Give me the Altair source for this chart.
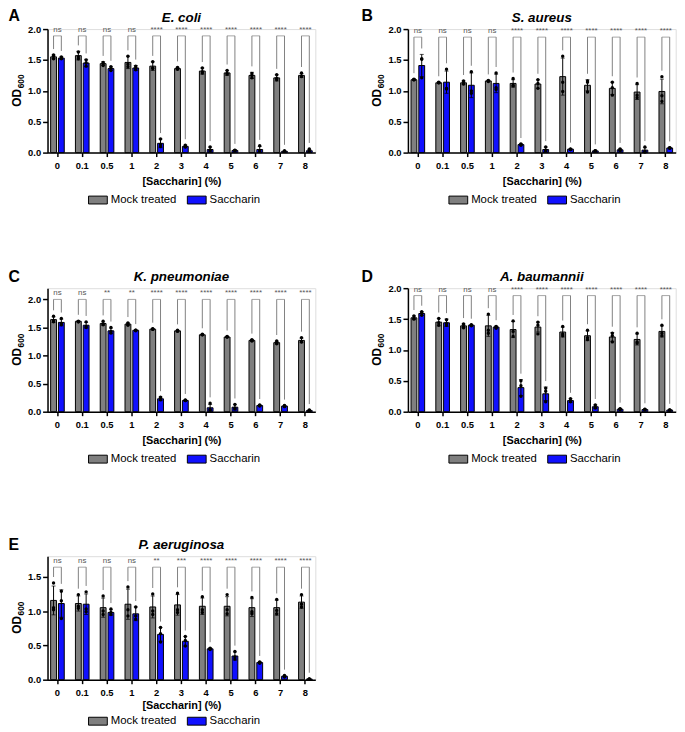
import altair as alt
import pandas as pd

conc_labels = ["0", "0.1", "0.5", "1", "2", "3", "4", "5", "6", "7", "8"]
treatments = ["Mock treated", "Saccharin"]
bar_colors = ["#7f7f7f", "#1010ff"]

# ---- Panel A: E. coli ----
A_mock_mean = [1.55, 1.57, 1.44, 1.46, 1.40, 1.36, 1.32, 1.29, 1.25, 1.21, 1.25]
A_mock_sd = [0.03, 0.07, 0.03, 0.10, 0.07, 0.02, 0.05, 0.04, 0.05, 0.05, 0.03]
A_mock_pts = [[1.52, 1.56, 1.58], [1.63, 1.55, 1.52], [1.46, 1.44, 1.41], [1.56, 1.43, 1.39],
              [1.47, 1.37, 1.36], [1.38, 1.36, 1.35], [1.37, 1.31, 1.29], [1.33, 1.28, 1.27],
              [1.28, 1.25, 1.21], [1.26, 1.20, 1.18], [1.29, 1.24, 1.23]]
A_sac_mean = [1.53, 1.45, 1.36, 1.37, 0.15, 0.10, 0.05, 0.035, 0.05, 0.02, 0.03]
A_sac_sd = [0.02, 0.06, 0.03, 0.04, 0.07, 0.02, 0.04, 0.01, 0.05, 0.01, 0.02]
A_sac_pts = [[1.55, 1.53, 1.52], [1.50, 1.45, 1.40], [1.39, 1.36, 1.33], [1.40, 1.37, 1.34],
             [0.22, 0.13, 0.10], [0.12, 0.10, 0.09], [0.09, 0.04, 0.03], [0.04, 0.035, 0.03],
             [0.11, 0.03, 0.02], [0.03, 0.02, 0.02], [0.06, 0.02, 0.02]]
A_sig = ["ns", "ns", "ns", "ns", "****", "****", "****", "****", "****", "****", "****"]

# ---- Panel B: S. aureus ----
B_mock_mean = [1.18, 1.13, 1.13, 1.16, 1.12, 1.11, 1.23, 1.09, 1.04, 0.98, 0.99]
B_mock_sd = [0.01, 0.01, 0.03, 0.01, 0.06, 0.07, 0.30, 0.09, 0.10, 0.12, 0.20]
B_mock_pts = [[1.18, 1.19, 1.18], [1.13, 1.13, 1.14], [1.16, 1.12, 1.11], [1.17, 1.16, 1.15],
              [1.20, 1.09, 1.08], [1.18, 1.12, 1.04], [1.56, 1.14, 0.99], [1.16, 1.14, 0.98],
              [1.14, 1.05, 0.93], [1.12, 0.93, 0.89], [1.23, 0.92, 0.83]]
B_sac_mean = [1.41, 1.14, 1.09, 1.12, 0.13, 0.05, 0.055, 0.027, 0.045, 0.04, 0.075]
B_sac_sd = [0.18, 0.18, 0.20, 0.15, 0.01, 0.04, 0.01, 0.01, 0.015, 0.04, 0.01]
B_sac_pts = [[1.52, 1.51, 1.21], [1.35, 1.04, 1.03], [1.31, 1.00, 0.96], [1.29, 1.05, 1.02],
             [0.14, 0.13, 0.12], [0.09, 0.03, 0.03], [0.06, 0.05, 0.05], [0.03, 0.03, 0.02],
             [0.06, 0.04, 0.03], [0.09, 0.02, 0.01], [0.08, 0.075, 0.07]]
B_sig = ["ns", "ns", "ns", "ns", "****", "****", "****", "****", "****", "****", "****"]

# ---- Panel C: K. pneumoniae ----
C_mock_mean = [1.64, 1.61, 1.57, 1.56, 1.47, 1.44, 1.37, 1.33, 1.27, 1.23, 1.27]
C_mock_sd = [0.05, 0.01, 0.03, 0.02, 0.01, 0.01, 0.01, 0.005, 0.015, 0.025, 0.04]
C_mock_pts = [[1.70, 1.62, 1.60], [1.61, 1.60, 1.60], [1.61, 1.56, 1.55], [1.58, 1.56, 1.54],
              [1.48, 1.47, 1.47], [1.45, 1.44, 1.43], [1.38, 1.37, 1.37], [1.34, 1.33, 1.33],
              [1.28, 1.27, 1.26], [1.26, 1.23, 1.21], [1.32, 1.25, 1.24]]
C_sac_mean = [1.59, 1.54, 1.44, 1.45, 0.23, 0.20, 0.07, 0.08, 0.11, 0.10, 0.02]
C_sac_sd = [0.06, 0.05, 0.05, 0.005, 0.03, 0.01, 0.06, 0.05, 0.01, 0.01, 0.01]
C_sac_pts = [[1.66, 1.57, 1.55], [1.60, 1.52, 1.50], [1.50, 1.43, 1.40], [1.45, 1.45, 1.44],
             [0.26, 0.23, 0.21], [0.21, 0.20, 0.20], [0.15, 0.04, 0.03], [0.13, 0.06, 0.05],
             [0.12, 0.11, 0.10], [0.11, 0.10, 0.09], [0.03, 0.02, 0.01]]
C_sig = ["ns", "ns", "**", "**", "****", "****", "****", "****", "****", "****", "****"]

# ---- Panel D: A. baumannii ----
D_mock_mean = [1.52, 1.45, 1.39, 1.39, 1.33, 1.37, 1.29, 1.23, 1.21, 1.17, 1.30]
D_mock_sd = [0.03, 0.06, 0.03, 0.17, 0.13, 0.08, 0.08, 0.08, 0.07, 0.09, 0.09]
D_mock_pts = [[1.55, 1.51, 1.50], [1.51, 1.44, 1.40], [1.42, 1.38, 1.36], [1.58, 1.32, 1.27],
              [1.47, 1.30, 1.22], [1.45, 1.40, 1.26], [1.38, 1.26, 1.23], [1.32, 1.20, 1.17],
              [1.27, 1.23, 1.13], [1.27, 1.13, 1.11], [1.40, 1.27, 1.23]]
D_sac_mean = [1.59, 1.44, 1.40, 1.37, 0.39, 0.29, 0.18, 0.08, 0.04, 0.035, 0.027]
D_sac_sd = [0.03, 0.06, 0.01, 0.015, 0.13, 0.11, 0.03, 0.03, 0.01, 0.005, 0.005]
D_sac_pts = [[1.62, 1.60, 1.56], [1.49, 1.43, 1.40], [1.41, 1.40, 1.39], [1.38, 1.37, 1.35],
             [0.50, 0.42, 0.25], [0.38, 0.33, 0.16], [0.21, 0.17, 0.16], [0.11, 0.07, 0.06],
             [0.05, 0.04, 0.035], [0.04, 0.035, 0.03], [0.03, 0.03, 0.02]]
D_sig = ["ns", "ns", "ns", "ns", "****", "****", "****", "****", "****", "****", "****"]

# ---- Panel E: P. aeruginosa ----
E_mock_mean = [1.155, 1.11, 1.05, 1.10, 1.06, 1.09, 1.07, 1.07, 1.05, 1.05, 1.13]
E_mock_sd = [0.21, 0.11, 0.14, 0.22, 0.16, 0.15, 0.12, 0.14, 0.13, 0.11, 0.09]
E_mock_pts = [[1.41, 1.05, 1.02], [1.24, 1.07, 1.04], [1.22, 1.00, 0.95], [1.35, 1.02, 0.93],
              [1.25, 1.00, 0.95], [1.26, 1.02, 0.98], [1.21, 1.02, 0.98], [1.24, 1.02, 0.96],
              [1.20, 0.99, 0.96], [1.17, 1.01, 0.96], [1.24, 1.10, 1.06]]
E_sac_mean = [1.11, 1.10, 0.98, 0.96, 0.66, 0.56, 0.45, 0.345, 0.25, 0.05, 0.01]
E_sac_sd = [0.20, 0.15, 0.04, 0.10, 0.10, 0.07, 0.01, 0.06, 0.01, 0.01, 0.005]
E_sac_pts = [[1.29, 1.15, 0.89], [1.28, 1.03, 0.99], [1.03, 0.98, 0.95], [1.06, 0.93, 0.88],
             [0.76, 0.67, 0.55], [0.63, 0.57, 0.49], [0.46, 0.45, 0.44], [0.41, 0.33, 0.30],
             [0.26, 0.25, 0.24], [0.06, 0.05, 0.04], [0.01, 0.01, 0.005]]
E_sig = ["ns", "ns", "ns", "ns", "**", "***", "****", "****", "****", "****", "****"]

# axis maxima and bracket levels (data units) per panel
y_max = {"A": 2.0, "B": 2.0, "C": 2.2, "D": 2.0, "E": 1.8}
bracket_level = {"A": 1.89, "B": 1.87, "C": 2.0, "D": 1.88, "E": 1.64}

W, H = 271, 125
FONT = "Liberation Sans"
LEG_PATH = "M-1,-0.42L1,-0.42L1,0.42L-1,0.42Z"


def make_panel(key, species, mm, ms, mp, sm, ss, sp, sig, label_x, label_y, extra_bottom,
               xtitle_pad=6, legend_y=163):
    ymax = y_max[key]
    level = bracket_level[key]
    gap = 6.0 / H * ymax

    bar_rows, pt_rows, leg_rows = [], [], []
    for i, c in enumerate(conc_labels):
        for t, mean, sd, pts in ((treatments[0], mm[i], ms[i], mp[i]),
                                 (treatments[1], sm[i], ss[i], sp[i])):
            lo = max(mean - sd, 0.0)
            hi = mean + sd
            bar_rows.append({"conc": c, "treat": t, "mean": mean, "lo": lo, "hi": hi})
            for v in pts:
                pt_rows.append({"conc": c, "treat": t, "val": v})
            top = max(hi, max(pts))
            leg_rows.append({"conc": c, "treat": t, "y": top + gap, "y2": level})
    bars = pd.DataFrame(bar_rows)
    points = pd.DataFrame(pt_rows)
    legs = pd.DataFrame(leg_rows)
    sigs = pd.DataFrame({"conc": conc_labels, "sig": sig, "level": [level] * len(conc_labels)})

    xscale = alt.Scale(paddingInner=0.45, paddingOuter=0.125)
    xo = alt.XOffset("treat:N", sort=treatments, scale=alt.Scale(paddingInner=0.25, paddingOuter=0))
    yscale = alt.Scale(domain=[0, ymax], nice=False)
    yvals = [v for v in [0, 0.5, 1.0, 1.5, 2.0] if v <= ymax + 1e-9]

    x_axis = alt.Axis(title="[Saccharin] (%)", labelAngle=0, domainColor="black",
                      domainWidth=1.5, tickColor="black", tickWidth=1.5, tickSize=4,
                      labelFont=FONT, labelFontSize=9.5, labelFontWeight="bold",
                      labelColor="black", labelPadding=4, titleFont=FONT,
                      titleFontSize=11, titleFontWeight="bold", titleColor="black",
                      titlePadding=xtitle_pad, grid=False)
    y_axis = alt.Axis(title=None, values=yvals, format=".1f", grid=False,
                      domainColor="black", domainWidth=1.5, tickColor="black",
                      tickWidth=1.5, tickSize=5, labelFont=FONT, labelFontSize=9.5,
                      labelFontWeight="bold", labelColor="black", labelPadding=2)

    X = alt.X("conc:N", sort=conc_labels, scale=xscale, axis=x_axis)

    def Y(field):
        return alt.Y(field, scale=yscale, axis=y_axis)

    color = alt.Color("treat:N", sort=treatments,
                      scale=alt.Scale(domain=treatments, range=bar_colors),
                      legend=alt.Legend(orient="none", legendX=41, legendY=legend_y,
                                        direction="horizontal", title=None,
                                        symbolType=LEG_PATH, symbolSize=361,
                                        symbolStrokeColor="black", symbolStrokeWidth=1,
                                        labelFont=FONT, labelFontSize=11.5, labelColor="black",
                                        labelOffset=3, columnPadding=8, padding=0))

    bar_layer = alt.Chart(bars).mark_bar(stroke="black", strokeWidth=1).encode(
        x=X, xOffset=xo, y=Y("mean:Q"), color=color)

    err = alt.Chart(bars).mark_rule(color="black", strokeWidth=1).encode(
        x=X, xOffset=xo, y=Y("lo:Q"), y2="hi:Q")
    cap_hi = alt.Chart(bars).mark_tick(color="black", thickness=1, size=4).encode(
        x=X, xOffset=xo, y=Y("hi:Q"))
    cap_lo = alt.Chart(bars).mark_tick(color="black", thickness=1, size=4).encode(
        x=X, xOffset=xo, y=Y("lo:Q"))

    dots = alt.Chart(points).mark_circle(color="black", size=12, opacity=1).encode(
        x=X, xOffset=xo, y=Y("val:Q"))

    leg_layer = alt.Chart(legs).mark_rule(color="#808080", strokeWidth=1).encode(
        x=X, xOffset=xo, y=Y("y:Q"), y2="y2:Q")
    hbar = alt.Chart(sigs).mark_tick(color="#808080", thickness=1, size=8).encode(
        x=X, y=Y("level:Q"))
    sig_text = alt.Chart(sigs).mark_text(font=FONT, fontSize=8, color="#555555",
                                         baseline="bottom", dy=-2).encode(
        x=X, y=Y("level:Q"), text="sig:N")

    title_text = alt.Chart(pd.DataFrame({"t": [species]})).mark_text(
        font=FONT, fontSize=13.5, fontWeight="bold", fontStyle="italic",
        align="center", baseline="middle", color="black").encode(
        x=alt.value(W / 2), y=alt.value(-11), text="t:N")
    label_text = alt.Chart(pd.DataFrame({"t": [key]})).mark_text(
        font=FONT, fontSize=16, fontWeight="bold", align="left", baseline="middle",
        color="black").encode(x=alt.value(label_x), y=alt.value(label_y), text="t:N")

    # y-axis title "OD" with subscript "600"
    od_text = alt.Chart(pd.DataFrame({"t": ["OD"]})).mark_text(
        font=FONT, fontSize=12, fontWeight="bold", angle=270, align="left",
        baseline="alphabetic", color="black").encode(
        x=alt.value(-27), y=alt.value(H / 2 + 16), text="t:N")
    sub_text = alt.Chart(pd.DataFrame({"t": ["600"]})).mark_text(
        font=FONT, fontSize=8.5, fontWeight="bold", angle=270, align="left",
        baseline="alphabetic", color="black").encode(
        x=alt.value(-24), y=alt.value(H / 2 - 2.5), text="t:N")

    layers = [bar_layer, err, cap_hi, cap_lo, dots, leg_layer, hbar, sig_text,
              title_text, label_text, od_text, sub_text]
    if extra_bottom:
        spacer = alt.Chart(pd.DataFrame({"t": [0]})).mark_rule(opacity=0).encode(
            x=alt.value(0), y=alt.value(H), y2=alt.value(extra_bottom))
        layers.append(spacer)
    return alt.layer(*layers).properties(width=W, height=H)


pA = make_panel("A", "E. coli", A_mock_mean, A_mock_sd, A_mock_pts, A_sac_mean, A_sac_sd,
                A_sac_pts, A_sig, -39.5, -13.5, 0)
pB = make_panel("B", "S. aureus", B_mock_mean, B_mock_sd, B_mock_pts, B_sac_mean, B_sac_sd,
                B_sac_pts, B_sig, -47, -13.5, 0)
pC = make_panel("C", "K. pneumoniae", C_mock_mean, C_mock_sd, C_mock_pts, C_sac_mean, C_sac_sd,
                C_sac_pts, C_sig, -39.5, -11, 188.3)
pD = make_panel("D", "A. baumannii", D_mock_mean, D_mock_sd, D_mock_pts, D_sac_mean, D_sac_sd,
                D_sac_pts, D_sig, -47, -11, 0)
pE = make_panel("E", "P. aeruginosa", E_mock_mean, E_mock_sd, E_mock_pts, E_sac_mean, E_sac_sd,
                E_sac_pts, E_sig, -39.5, -11, 0, xtitle_pad=3, legend_y=157)

chart = alt.concat(pA, pB, pC, pD, pE, columns=2,
                   spacing={"row": 62.2, "column": 44.7}, bounds="full", align="each").resolve_scale(
    color="independent", y="independent", x="independent", xOffset="independent"
).resolve_axis(x="independent", y="independent").resolve_legend(color="independent").properties(
    padding={"left": 0, "top": -5, "right": 0, "bottom": 0}
).configure_view(stroke=None).configure(font=FONT).configure_axis(grid=False)

chart.save("out.html", embed_options={"renderer": "svg", "actions": False})
